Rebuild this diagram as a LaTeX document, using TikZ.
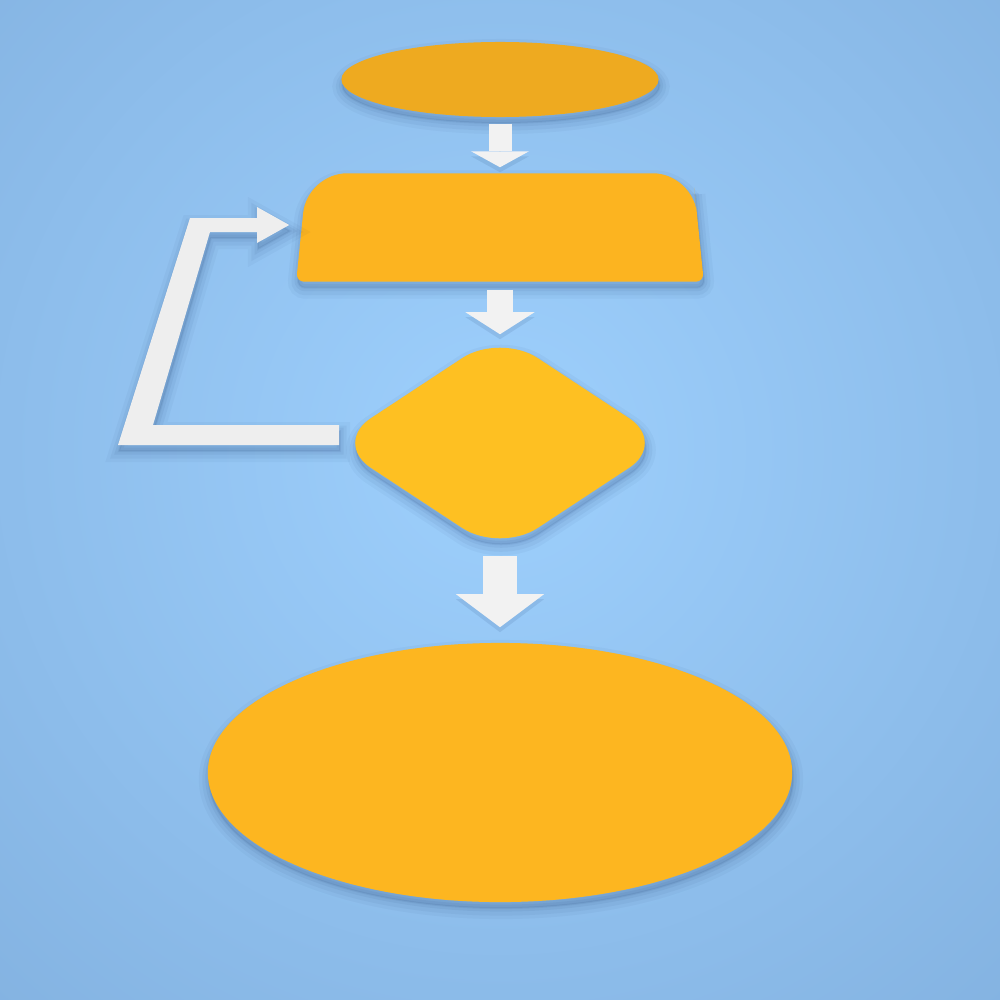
\documentclass[tikz,border=0pt]{standalone}
\usetikzlibrary{shapes.geometric,arrows.meta,calc}
\definecolor{bgin}{RGB}{158,208,253}
\definecolor{bgout}{RGB}{106,150,198}
\definecolor{termtop}{RGB}{238,170,32}
\definecolor{procfill}{RGB}{252,180,32}
\definecolor{decfill}{RGB}{254,192,34}
\definecolor{termbot}{RGB}{253,182,32}
\definecolor{arrowcol}{RGB}{242,242,242}
\definecolor{loopcol}{RGB}{238,238,238}
\definecolor{shadowcol}{RGB}{20,50,100}
\begin{document}
\begin{tikzpicture}[x=0.01cm,y=-0.01cm,
  softshadow/.style={
    preaction={draw=shadowcol, line width=0.20cm, opacity=0.04, transform canvas={shift={(0.01cm,-0.07cm)}}},
    preaction={draw=shadowcol, line width=0.13cm, opacity=0.05, transform canvas={shift={(0.01cm,-0.07cm)}}},
    preaction={draw=shadowcol, line width=0.07cm, opacity=0.06, transform canvas={shift={(0.01cm,-0.06cm)}}},
    preaction={draw=shadowcol, line width=0.02cm, opacity=0.07, transform canvas={shift={(0.01cm,-0.06cm)}}},
    preaction={fill=shadowcol, opacity=0.10, transform canvas={shift={(0.01cm,-0.06cm)}}}},
  termstyle/.style={ellipse, inner sep=0pt, draw=none, softshadow},
  arrowshadow/.style={preaction={draw=shadowcol, opacity=0.10, transform canvas={yshift=-0.05cm}}},
  arrowsmall/.style={draw=arrowcol, line width=0.23cm, arrowshadow, -{Triangle[width=0.58cm,length=0.16cm,line width=0pt]}},
  arrowmid/.style={draw=arrowcol, line width=0.25cm, arrowshadow, -{Triangle[width=0.69cm,length=0.22cm,line width=0pt]}},
  arrowbig/.style={draw=arrowcol, line width=0.33cm, arrowshadow, -{Triangle[width=0.88cm,length=0.33cm,line width=0pt]}}]
\useasboundingbox (0,0) rectangle (1000,1000);
\begin{scope}
\clip (0,0) rectangle (1000,1000);
\shade[inner color=bgin, outer color=bgout] (-1000,-1050) rectangle (2000,1950);
\end{scope}

% terminal (top)
\node[termstyle, fill=termtop, minimum width=3.17cm, minimum height=0.75cm] (start) at (500,79.5) {};

% process (rounded trapezium)
\node[inner sep=0pt, minimum width=3.84cm, minimum height=1.07cm] (proc) at (500,227.5) {};
\coordinate (pbl) at ($(proc.south west)+(-11,0)$);
\coordinate (pbr) at ($(proc.south east)+(11,0)$);
\fill[procfill, softshadow] (proc.south) [rounded corners=0.08cm] -- (pbl) -- ($(pbl)!0.5!(proc.north west)$)
  [rounded corners=0.4cm] -- (proc.north west) -- (proc.north east) -- ($(pbr)!0.5!(proc.north east)$)
  [rounded corners=0.08cm] -- (pbr) -- cycle;

% decision
\node[diamond, fill=decfill, inner sep=0pt, minimum width=3.34cm, minimum height=2.2cm, rounded corners=0.45cm, softshadow] (dec) at (500,443) {};

% terminal (bottom)
\node[termstyle, fill=termbot, minimum width=5.84cm, minimum height=2.59cm] (stop) at (500,772.5) {};

% connectors
\draw[arrowsmall] ($(start.south)+(0,6)$) -- ($(proc.north)+(0,-6)$);
\draw[arrowmid] ($(proc.south)+(0,8)$) -- ($(dec.north)+(0,2)$);
\draw[arrowbig] ($(dec.south)+(0,2)$) -- ($(stop.north)+(0,-15)$);

% loop back from decision to process
\coordinate (loopstart) at ($(dec.west)+(7,-8)$);
\coordinate (looptip) at ($(proc.west)+(-18,-2.5)$);
\fill[loopcol, softshadow] ($(loopstart)+(0,-10)$) -- ($(loopstart)+(0,10)$) -- (118,445) -- (190,218)
  -- (257,218) -- (257,207) -- (looptip) -- (257,243) -- (257,232) -- (210,232) -- (153,425) -- cycle;
\end{tikzpicture}
\end{document}
